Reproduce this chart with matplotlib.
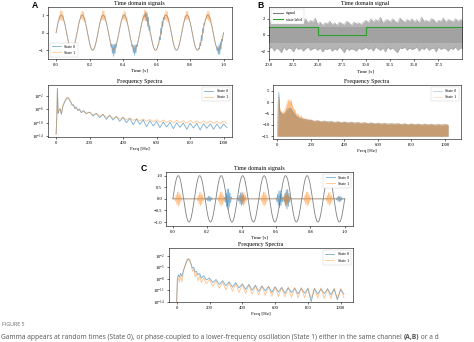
import numpy as np
import matplotlib.pyplot as plt
from matplotlib.ticker import NullLocator

plt.rcParams["font.family"] = ["Liberation Serif", "DejaVu Serif"]
plt.rcParams["font.size"] = 4
plt.rcParams["axes.linewidth"] = 0.4
plt.rcParams["xtick.major.size"] = 1.5
plt.rcParams["ytick.major.size"] = 1.5
plt.rcParams["xtick.major.width"] = 0.4
plt.rcParams["ytick.major.width"] = 0.4
plt.rcParams["xtick.major.pad"] = 1.2
plt.rcParams["ytick.major.pad"] = 1.2
plt.rcParams["xtick.labelsize"] = 3.4
plt.rcParams["ytick.labelsize"] = 3.4

BLUE = "#1f77b4"
ORANGE = "#ff7f0e"

# ---- time domain (A, C): one 8 Hz cycle of the slow oscillation, 32 samples
cycle = [0.0, 0.195, 0.383, 0.556, 0.707, 0.831, 0.924, 0.981,
         1.0, 0.981, 0.924, 0.831, 0.707, 0.556, 0.383, 0.195,
         0.0, -0.195, -0.383, -0.556, -0.707, -0.831, -0.924, -0.981,
         -1.0, -0.981, -0.924, -0.831, -0.707, -0.556, -0.383, -0.195]
n_cycles = 8
# gamma burst shape
burst = [0.04, -0.09, 0.15, -0.21, 0.26, -0.29, 0.27, -0.22, 0.16, -0.1, 0.05]

state1_times = [0.03, 0.16, 0.28, 0.41, 0.53, 0.66, 0.78, 0.91]
state1_gain_a = [1.0, 0.9, 1.0, 0.9, 1.1, 1.0, 0.9, 1.0]
state0_times_a = [0.345, 0.47, 0.545, 0.63, 0.87, 0.975]
state0_gain_a = [1.2, 1.0, 1.2, 1.0, 0.9, 1.1]

state1_gain_c = [1.1, 1.0, 1.1, 1.0, 1.1, 1.0, 1.1, 1.0]
state0_times_c = [0.21, 0.32, 0.40, 0.62, 0.665, 0.97]
state0_gain_c = [0.4, 1.6, 1.0, 1.3, 1.5, 0.45]

# ---- time domain (B)
time_b_start, time_b_end = 20.0, 40.0
upper_b = [1.6, 1.9, 1.4, 2.1, 1.7, 1.5, 1.9, 1.6, 2.2, 1.5, 1.8, 1.6, 1.9, 1.4, 1.7, 2.0, 1.5, 1.8, 1.6, 2.1,
           1.3, 1.6, 1.2, 1.5, 1.4, 1.7, 1.3, 1.5, 1.2, 1.6, 1.4, 1.3, 1.7, 1.5, 1.2, 1.6, 1.4, 1.5, 1.3, 1.6,
           1.8, 1.5, 2.0, 1.6, 1.9, 1.7, 2.2, 1.5, 1.8, 1.9, 1.6, 2.0, 1.7, 1.5, 2.1, 1.8, 1.6, 1.9, 1.7, 2.0,
           1.6, 1.9, 1.5, 2.2, 1.7, 1.8, 1.6, 2.0, 1.9, 1.5, 1.8, 1.7, 2.1, 1.6, 1.9, 1.8, 1.6, 2.0, 1.7, 1.9, 1.8]
lower_b = [-1.7, -1.5, -2.0, -1.6, -1.8, -2.2, -1.5, -1.9, -1.6, -1.7, -2.1, -1.5, -1.8, -1.6, -2.0, -1.7, -1.5, -1.9, -1.7, -1.6,
           -1.9, -1.6, -2.1, -1.7, -1.8, -1.6, -2.0, -1.7, -1.9, -1.5, -1.8, -2.2, -1.6, -1.9, -1.7, -1.8, -2.0, -1.6, -1.8, -1.7,
           -1.5, -1.8, -1.6, -2.0, -1.5, -1.7, -1.9, -1.6, -2.1, -1.5, -1.8, -1.6, -1.9, -2.2, -1.6, -1.7, -1.5, -1.9, -1.6, -1.8,
           -1.7, -1.5, -2.0, -1.6, -1.8, -1.5, -1.9, -1.7, -1.6, -2.1, -1.5, -1.8, -1.6, -1.7, -2.0, -1.6, -1.8, -1.5, -1.9, -1.6, -1.7]
state_times = [20.0, 25.0, 25.0, 30.0, 30.0, 40.0]
state_vals = [1, 1, 0, 0, 1, 1]

# ---- spectra: frequency grid [Hz]
freq = [0, 4, 8, 12, 16, 24, 32, 40, 48, 56, 64, 72, 80, 88, 96, 104, 112, 120, 130, 140, 150, 165, 180] \
    + list(range(200, 1021, 20))

# A: log10 power
spec_a0 = [-13.5, -9, 0.3, -7.2, -6.5, -5.8, -7.5, -5.2, -4.2, -3.4, -2.7, -2.6, -3.2, -3.9, -4.8, -4.6, -5.8, -5.3,
           -6.4, -5.9, -7.0, -6.4, -7.3,
           -6.8, -8.0, -7.2, -8.5, -7.5, -9.0, -7.8, -9.2, -8.1, -9.6, -8.4, -10.0, -8.7, -10.6, -8.9, -10.5, -9.2,
           -11.2, -9.4, -11.0, -9.6, -11.5, -9.8, -11.3, -9.9, -11.8, -10.0, -11.4, -10.1, -12.0, -10.2, -11.6, -10.2,
           -12.2, -10.3, -11.7, -10.3, -12.0, -10.4, -11.8, -10.4, -11.5]
spec_a1 = [-13.5, -9, 0.3, -7.0, -6.4, -5.9, -7.2, -5.0, -3.9, -3.0, -2.5, -2.4, -2.9, -3.6, -4.5, -4.8, -5.5, -5.6,
           -6.2, -6.2, -6.8, -6.7, -7.2,
           -6.9, -7.6, -7.3, -8.0, -7.6, -8.4, -7.9, -8.7, -8.2, -8.9, -8.4, -9.1, -8.6, -9.3, -8.8, -9.5, -8.9,
           -9.6, -9.0, -9.7, -9.1, -9.8, -9.2, -9.9, -9.3, -10.0, -9.3, -10.0, -9.4, -10.1, -9.4, -10.1, -9.5,
           -10.2, -9.5, -10.2, -9.5, -10.2, -9.6, -10.3, -9.6, -10.2]

# B: power in log units (linear axis)
spec_b0 = [-15, 0, 4.6, -3.5, -4.5, -5.0, -5.3, -5.2, -4.5, -3.5, -2.8, -2.5, -3.0, -3.8, -4.8, -5.5, -6.2, -6.6,
           -7.0, -7.2, -7.4, -7.6, -7.8,
           -8.0, -8.3, -8.2, -8.5, -8.4, -8.6, -8.5, -8.8, -8.7, -8.9, -8.8, -9.0, -8.9, -9.1, -9.0, -9.2, -9.1,
           -9.3, -9.2, -9.4, -9.3, -9.5, -9.4, -9.6, -9.5, -9.6, -9.5, -9.7, -9.6, -9.8, -9.7, -9.8, -9.7,
           -9.9, -9.8, -9.9, -9.8, -10.0, -9.9, -10.0, -9.9, -10.0]
spec_b1 = [-15, -1, 2.0, -2.0, -3.5, -4.2, -4.5, -4.0, -2.5, -0.5, 1.2, 0.3, 1.0, -1.5, -3.0, -3.5, -5.5, -5.0,
           -6.5, -6.0, -7.0, -7.2, -7.5,
           -7.6, -8.4, -7.9, -8.6, -8.1, -8.7, -8.3, -8.9, -8.4, -9.0, -8.5, -9.1, -8.6, -9.2, -8.7, -9.3, -8.8,
           -9.4, -8.9, -9.5, -9.0, -9.6, -9.1, -9.7, -9.2, -9.7, -9.2, -9.8, -9.3, -9.9, -9.3, -9.9, -9.4,
           -10.0, -9.4, -10.0, -9.5, -10.1, -9.5, -10.1, -9.6, -10.1]

# C: log10 power
spec_c0 = [-14, -8, -7.3, -7.0, -7.6, -6.6, -7.4, -6.0, -5.0, -4.0, -3.2, -2.8, -3.3, -4.2, -5.2, -5.0, -6.3, -6.0,
           -7.0, -6.6, -7.8, -7.2, -8.3,
           -7.8, -9.0, -8.2, -9.5, -8.5, -9.8, -8.8, -10.2, -9.0, -10.4, -9.3, -10.8, -9.5, -11.0, -9.7, -11.3, -9.9,
           -11.2, -10.0, -11.6, -10.1, -11.5, -10.3, -11.8, -10.4, -11.6, -10.5, -12.0, -10.5, -11.8, -10.6, -14.0,
           -10.6, -12.0, -10.7, -11.9, -10.7, -12.2, -10.7, -13.5, -10.8, -12.0]
spec_c1 = [-14, -8.5, -8.2, -7.8, -9.0, -7.4, -8.8, -6.2, -4.8, -3.8, -2.9, -2.6, -3.1, -4.3, -6.0, -5.4, -7.5, -6.6,
           -8.5, -7.2, -9.0, -7.8, -9.3,
           -8.2, -10.0, -8.6, -10.5, -8.9, -10.9, -9.1, -11.3, -9.3, -11.6, -9.5, -11.9, -9.6, -12.1, -9.8, -12.3, -9.9,
           -12.4, -10.0, -12.6, -10.1, -12.7, -10.2, -12.8, -10.2, -12.9, -10.3, -13.0, -10.3, -13.0, -10.4, -13.1,
           -10.4, -13.1, -10.4, -13.2, -10.5, -13.2, -10.5, -13.2, -10.5, -13.0]

W, H = 474, 342
fig = plt.figure(figsize=(W / 100, H / 100), dpi=100)


def box(l, t, r, b):
    return fig.add_axes([l / W, 1 - b / H, (r - l) / W, (b - t) / H])


def add_bursts(base, times, gains):
    out = base.copy()
    b = np.array(burst)
    h = len(b) // 2
    for tc, g in zip(times, gains):
        c = int(round(tc * (len(base) - 1)))
        for k in range(len(b)):
            i = c - h + k
            if 0 <= i < len(out):
                out[i] += g * b[k]
    return out


def small_legend(ax, loc):
    lg = ax.legend(loc=loc, fontsize=3, handlelength=2.2, borderpad=0.5, labelspacing=0.5,
                   fancybox=False, framealpha=1)
    lg.get_frame().set_linewidth(0.3)
    lg.get_frame().set_edgecolor("#cccccc")


carrier = np.array(cycle * n_cycles + [0.0])
t = np.linspace(0, 1, len(carrier))
zeros = np.zeros_like(carrier)

# ---------------- A: time domain
ax = box(47.7, 7.3, 232, 59)
ax.plot(t, add_bursts(carrier, state0_times_a, state0_gain_a), color=BLUE, alpha=0.6, lw=0.6, label="State 0")
ax.plot(t, add_bursts(carrier, state1_times, state1_gain_a), color=ORANGE, alpha=0.45, lw=0.6, label="State 1")
ax.set_xlim(-0.05, 1.05)
ax.set_ylim(-1.5, 1.45)
ax.set_xticks([0.0, 0.2, 0.4, 0.6, 0.8, 1.0])
ax.set_yticks([-1, 0, 1])
ax.set_title("Time domain signals", fontsize=4.3, pad=1.5)
ax.set_xlabel("Time [s]", fontsize=3.6, labelpad=1.5)
small_legend(ax, "lower left")

# ---------------- A: spectra
ax = box(47.7, 85, 232, 137)
ax.semilogy(freq, 10 ** np.array(spec_a0), color=BLUE, alpha=0.6, lw=0.6, label="State 0")
ax.semilogy(freq, 10 ** np.array(spec_a1), color=ORANGE, alpha=0.45, lw=0.6, label="State 1")
ax.set_xlim(-50, 1050)
ax.set_ylim(10 ** -14.3, 10 ** 1.3)
ax.set_yticks([1e-2, 1e-6, 1e-10, 1e-14])
ax.yaxis.set_minor_locator(NullLocator())
ax.set_xticks([0, 200, 400, 600, 800, 1000])
ax.set_title("Frequency Spectra", fontsize=4.3, pad=1.5)
ax.set_xlabel("Freq [Hz]", fontsize=3.6, labelpad=1.5)
small_legend(ax, "upper right")

# ---------------- B: time domain
ax = box(269.3, 7.3, 461.7, 59.3)
tb = np.linspace(time_b_start, time_b_end, len(upper_b))
ax.fill_between(tb, lower_b, upper_b, color="#b4b4b4", lw=0)
ax.fill_between(tb, -1.0, 1.0, color="#a2a2a2", lw=0)
ax.plot(tb, upper_b, color="#9a9a9a", lw=0.3)
ax.plot(tb, lower_b, color="#9a9a9a", lw=0.3)
ax.plot([], [], color="gray", lw=0.8, label="signal")
ax.plot(state_times, state_vals, color="#2ca02c", lw=0.8, label="state label")
ax.set_xlim(20, 39.9)
ax.set_ylim(-3.0, 3.4)
ax.set_xticks([20.0, 22.5, 25.0, 27.5, 30.0, 32.5, 35.0, 37.5])
ax.set_yticks([-2, 0, 2])
ax.set_title("Time domain signal", fontsize=4.3, pad=1.5)
ax.set_xlabel("Time [s]", fontsize=3.6, labelpad=1.5)
small_legend(ax, "upper left")

# ---------------- B: spectra
ax = box(273.3, 85, 460.7, 139)
ax.fill_between(freq, -15, spec_b0, color=BLUE, alpha=0.5, lw=0)
ax.fill_between(freq, -15, spec_b1, color=ORANGE, alpha=0.5, lw=0)
ax.plot(freq, spec_b0, color=BLUE, alpha=0.5, lw=0.4, label="State 0")
ax.plot(freq, spec_b1, color=ORANGE, alpha=0.4, lw=0.4, label="State 1")
ax.set_xlim(-25, 1095)
ax.set_ylim(-16.2, 7.6)
ax.set_xticks([0, 200, 400, 600, 800, 1000])
ax.set_yticks([-15, -10, -5, 0, 5])
ax.set_title("Frequency Spectra", fontsize=4.3, pad=1.5)
ax.set_xlabel("Freq [Hz]", fontsize=3.6, labelpad=1.5)
small_legend(ax, "upper right")

# ---------------- C: time domain
ax = box(166, 171.7, 353.3, 226)
ax.plot(t, carrier, color="gray", lw=0.6)
ax.plot(t, add_bursts(zeros, state0_times_c, state0_gain_c), color=BLUE, alpha=0.6, lw=0.6, label="State 0")
ax.plot(t, add_bursts(zeros, state1_times, state1_gain_c), color=ORANGE, alpha=0.5, lw=0.6, label="State 1")
ax.set_xlim(-0.04, 1.05)
ax.set_ylim(-1.17, 1.17)
ax.set_xticks([0.0, 0.2, 0.4, 0.6, 0.8, 1.0])
ax.set_yticks([-1.0, -0.5, 0.0, 0.5, 1.0])
ax.set_title("Time domain signals", fontsize=4.3, pad=1.5)
ax.set_xlabel("Time [s]", fontsize=3.6, labelpad=1.5)
small_legend(ax, "upper right")

# ---------------- C: spectra
ax = box(168.5, 248.3, 353, 302)
ax.semilogy(freq, 10 ** np.array(spec_c0), color=BLUE, alpha=0.6, lw=0.6, label="State 0")
ax.semilogy(freq, 10 ** np.array(spec_c1), color=ORANGE, alpha=0.45, lw=0.6, label="State 1")
ax.set_xlim(-50, 1075)
ax.set_ylim(10 ** -14.1, 10 ** 0)
ax.set_yticks([1e-2, 1e-5, 1e-8, 1e-11, 1e-14])
ax.yaxis.set_minor_locator(NullLocator())
ax.set_xticks([0, 200, 400, 600, 800, 1000])
ax.set_title("Frequency Spectra", fontsize=4.3, pad=1.5)
ax.set_xlabel("Freq [Hz]", fontsize=3.6, labelpad=1.5)
small_legend(ax, "upper right")

# ---------------- panel letters
for letter, x, y in [("A", 35, 5), ("B", 260.7, 5), ("C", 144, 168.3)]:
    fig.text(x / W, 1 - y / H, letter, family="Liberation Sans", weight="bold", fontsize=6.2,
             ha="center", va="center")

# ---------------- caption (the reference crops it at the right edge)
fig.text(2 / W, 1 - 325 / H, "FIGURE 5", family="Open Sans", fontsize=3.8, color="#666666", va="center")
renderer = fig.canvas.get_renderer()
cap_parts = [("Gamma appears at random times (State 0), or phase-coupled to a lower-frequency oscillation "
              "(State 1) either in the same channel ", "normal"),
             ("(A,B)", "bold"),
             (" or a d", "normal")]
x0 = 1 / W
for txt, wt in cap_parts:
    tx = fig.text(x0, 1 - 339 / H, txt, family="Open Sans", fontsize=4.75, color="#555555",
                  weight=wt, va="baseline")
    bb = tx.get_window_extent(renderer)
    x0 = bb.x1 / W

fig.savefig("out.png", dpi=100)
